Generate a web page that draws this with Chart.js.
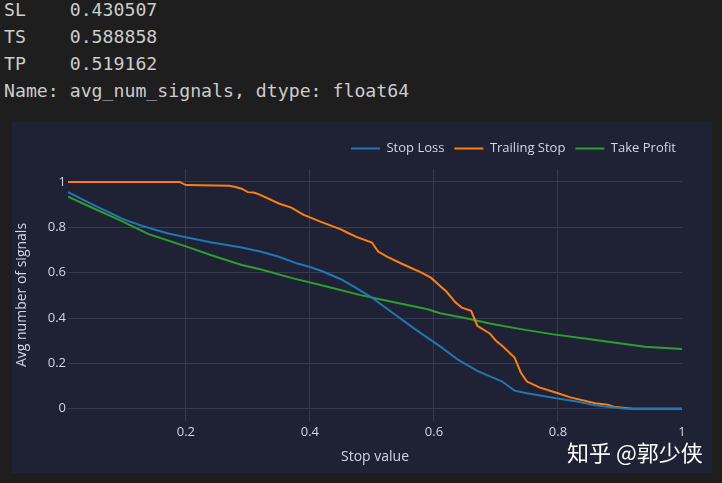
<!DOCTYPE html>
<html>
<head>
<meta charset="utf-8">
<script src="https://cdn.jsdelivr.net/npm/chart.js@4"></script>
<style>
  html, body { margin: 0; padding: 0; }
  body { width: 722px; height: 483px; background: #1e1e1e; position: relative; overflow: hidden; }
  #out {
    position: absolute; left: 4px; top: -4px;
    font-family: "DejaVu Sans Mono", monospace; font-size: 18.2px; line-height: 27px;
    color: #cccccc; white-space: pre;
  }
  #panel { position: absolute; left: 12px; top: 122px; width: 700px; height: 351px; background: #1f2234; }
  #mark {
    position: absolute; left: 567px; top: 436px;
    font-family: "Noto Sans CJK SC", sans-serif; font-size: 22px; line-height: 30px;
    color: #ffffff; white-space: nowrap;
  }
</style>
</head>
<body>
<div id="out">SL    0.430507
TS    0.588858
TP    0.519162
Name: avg_num_signals, dtype: float64</div>
<div id="panel"><canvas id="chart"></canvas></div>
<div id="mark">知乎 @郭少侠</div>
<script>
// Data
const seriesNames = ['Stop Loss', 'Trailing Stop', 'Take Profit'];
const seriesColors = ['#1f77b4', '#ff7f0e', '#2ca02c'];

const slX = [0.01, 0.05, 0.10, 0.13, 0.17, 0.20, 0.24, 0.29, 0.32, 0.35, 0.38, 0.40, 0.42, 0.45, 0.475, 0.50, 0.53, 0.57, 0.61, 0.64, 0.67, 0.71, 0.73, 0.75, 0.79, 0.83, 0.86, 0.89, 0.91, 0.95, 1.0];
const slY = [0.955, 0.900, 0.835, 0.806, 0.774, 0.756, 0.734, 0.711, 0.693, 0.670, 0.640, 0.625, 0.606, 0.571, 0.532, 0.490, 0.430, 0.350, 0.275, 0.214, 0.167, 0.120, 0.080, 0.068, 0.050, 0.032, 0.015, 0.006, 0, 0, 0];

const tsX = [0.01, 0.19, 0.20, 0.27, 0.28, 0.29, 0.30, 0.31, 0.32, 0.35, 0.37, 0.39, 0.42, 0.45, 0.46, 0.475, 0.50, 0.51, 0.525, 0.55, 0.58, 0.595, 0.62, 0.635, 0.645, 0.66, 0.67, 0.69, 0.70, 0.71, 0.73, 0.74, 0.75, 0.77, 0.80, 0.82, 0.86, 0.88, 0.89, 0.92, 1.0];
const tsY = [1.0, 1.0, 0.986, 0.983, 0.978, 0.970, 0.955, 0.953, 0.943, 0.905, 0.887, 0.855, 0.822, 0.791, 0.777, 0.758, 0.733, 0.693, 0.670, 0.637, 0.600, 0.578, 0.517, 0.468, 0.446, 0.432, 0.366, 0.332, 0.300, 0.278, 0.226, 0.160, 0.120, 0.094, 0.068, 0.050, 0.024, 0.018, 0.009, 0.0, 0.0];

const tpX = [0.01, 0.05, 0.09, 0.14, 0.20, 0.24, 0.29, 0.32, 0.37, 0.43, 0.48, 0.53, 0.59, 0.61, 0.65, 0.69, 0.74, 0.79, 0.84, 0.89, 0.94, 1.0];
const tpY = [0.935, 0.885, 0.836, 0.770, 0.716, 0.678, 0.634, 0.615, 0.577, 0.537, 0.502, 0.473, 0.439, 0.421, 0.400, 0.376, 0.351, 0.329, 0.311, 0.292, 0.273, 0.263];

const xTicks = [0.2, 0.4, 0.6, 0.8, 1];
const xTickLabels = ['0.2', '0.4', '0.6', '0.8', '1'];
const yTicks = [0, 0.2, 0.4, 0.6, 0.8, 1];
const yTickLabels = ['0', '0.2', '0.4', '0.6', '0.8', '1'];

const textColor = '#d2d5e2';
const gridColor = '#363b52';

const toPoints = (xs, ys) => xs.map((x, i) => ({ x, y: ys[i] }));
const allX = [slX, tsX, tpX];
const allY = [slY, tsY, tpY];

// push plot a bit below the legend and the legend a bit to the right
const legendTweak = {
  id: 'legendTweak',
  afterInit(chart) {
    const fit = chart.legend.fit;
    chart.legend.fit = function () { fit.call(this); this.height += 4; };
  },
  afterLayout(chart) {
    chart.legend.left += 4;
    chart.legend.right += 4;
  }
};

new Chart(document.getElementById('chart'), {
  type: 'line',
  data: {
    datasets: seriesNames.map((name, i) => ({
      label: name,
      data: toPoints(allX[i], allY[i]),
      borderColor: seriesColors[i],
      backgroundColor: seriesColors[i],
      borderWidth: 2,
      pointRadius: 0,
      tension: 0,
      fill: false
    }))
  },
  options: {
    responsive: true,
    maintainAspectRatio: false,
    animation: false,
    layout: { padding: { top: 10, right: 30, left: 0, bottom: 0 } },
    plugins: {
      legend: {
        position: 'top',
        align: 'end',
        labels: {
          usePointStyle: true,
          pointStyle: 'line',
          pointStyleWidth: 29,
          boxHeight: 2,
          padding: 10,
          color: textColor,
          font: { family: 'Open Sans', size: 13 }
        }
      },
      tooltip: { enabled: false }
    },
    scales: {
      x: {
        type: 'linear',
        min: 0.01,
        max: 1,
        afterBuildTicks: s => { s.ticks = xTicks.map(v => ({ value: v })); },
        afterFit: s => { s.height = 52; },
        ticks: {
          autoSkip: false,
          maxRotation: 0,
          padding: 3,
          color: textColor,
          font: { family: 'Open Sans', size: 13 },
          callback: (v, i) => xTickLabels[i]
        },
        grid: { color: (c) => (c.tick && c.tick.value === 1 ? 'rgba(0,0,0,0)' : gridColor), drawTicks: false },
        border: { display: false },
        title: {
          display: true, text: 'Stop value', color: textColor,
          font: { family: 'Open Sans', size: 14 }, padding: { top: 0, bottom: 8 }
        }
      },
      y: {
        min: -0.054,
        max: 1.057,
        afterBuildTicks: s => { s.ticks = yTicks.map(v => ({ value: v })); },
        afterFit: s => { s.width = 56; },
        ticks: {
          padding: 2,
          color: textColor,
          font: { family: 'Open Sans', size: 13 },
          callback: (v, i) => yTickLabels[i]
        },
        grid: { color: gridColor, drawTicks: false },
        border: { display: false },
        title: {
          display: true, text: 'Avg number of signals', color: textColor,
          font: { family: 'Open Sans', size: 14 }, padding: { top: 2, bottom: 0 }
        }
      }
    }
  },
  plugins: [legendTweak]
});
</script>
</body>
</html>
